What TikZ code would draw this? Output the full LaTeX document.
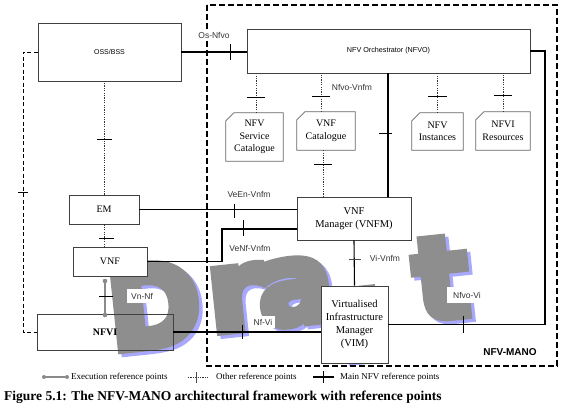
\documentclass[tikz,border=0pt]{standalone}
\usepackage{fontspec}
\setmainfont{Liberation Serif}
\setsansfont{Liberation Sans}
\newfontfamily\wmfont[FakeBold=8]{DejaVu Sans Bold}
\usetikzlibrary{calc}
\definecolor{wmgray}{HTML}{8E8E8E}
\definecolor{wmblue}{HTML}{A8A8FF}
\definecolor{execgray}{HTML}{8A8A8A}
\tikzset{
  box/.style={draw=black!75, line width=0.7pt, fill=white, inner sep=0pt, align=center,
              font=\fontsize{10}{12.5}\selectfont},
  storebox/.style={draw=none, inner sep=0pt, align=center, font=\fontsize{10}{12.5}\selectfont},
  storeline/.style={draw=black!60, line width=0.8pt},
  mainline/.style={line width=1.5pt, black},
  otherline/.style={line width=0.8pt, black!80, dash pattern=on 1.2pt off 1.2pt},
  leftline/.style={line width=0.9pt, black, dash pattern=on 4pt off 2.5pt},
  tickmark/.style={line width=0.8pt, black},
  execline/.style={line width=1.2pt, execgray},
  lbl/.style={fill=white, inner sep=2pt, font=\sffamily\fontsize{8.5}{10}\selectfont, text=black!80},
  mano/.style={line width=2pt, black, dash pattern=on 6pt off 3pt},
  wm/.style={inner sep=0pt, rotate=6, font=\wmfont\fontsize{112}{112}\selectfont},
  legtext/.style={anchor=west, inner sep=0pt, font=\fontsize{9}{10}\selectfont},
}
\begin{document}
\begin{tikzpicture}[x=1pt,y=-1pt]
\useasboundingbox (0,0) rectangle (572,417);
\fill[white] (0,0) rectangle (572,417);

% watermark "Draft"
\foreach \ch/\px/\py/\sc/\nm in {D/154/305/1/wmD, r/236/298/1/wmr, a/296/292/1/wma, f/355/324/0.8/wmf, t/441/278/1/wmt}{
  \node[wm, text=wmblue, scale=\sc] (\nm s) at (\px+3.5,\py+3) {\ch};
}
\foreach \ch/\px/\py/\sc/\nm in {D/154/305/1/wmD, r/236/298/1/wmr, a/296/292/1/wma, f/355/324/0.8/wmf, t/441/278/1/wmt}{
  \node[wm, text=wmgray, scale=\sc] (\nm) at (\px,\py) {\ch};
}

% MANO frame
\draw[mano] (207,5) rectangle (557,366);
\node[font=\sffamily\bfseries\fontsize{10}{12}\selectfont] (manolbl) at (510,352) {NFV-MANO};

% boxes
\node[box, minimum width=143pt, minimum height=58pt, font=\sffamily\fontsize{7}{8}\selectfont] (oss) at (109.5,52) {OSS/BSS};
\node[box, minimum width=283pt, minimum height=44pt, font=\sffamily\fontsize{7.2}{8}\selectfont] (nfvo) at (388.5,51) {NFV Orchestrator (NFVO)};
\node[box, minimum width=70pt, minimum height=29pt] (em) at (104,209.5) {EM};
\node[box, minimum width=74pt, minimum height=29pt] (vnf) at (110,261.5) {VNF};
\node[box, fill=none, minimum width=136pt, minimum height=36pt, font=\bfseries\fontsize{10}{12}\selectfont] (nfvi) at (105,332) {NFVI};
\node[box, minimum width=114pt, minimum height=43pt, font=\fontsize{10.5}{12.5}\selectfont] (vnfm) at (354,218.5) {VNF\\Manager (VNFM)};
\node[box, minimum width=67pt, minimum height=77pt, font=\fontsize{10.5}{12.8}\selectfont] (vim) at (354.5,324.5) {Virtualised\\Infrastructure\\Manager\\(VIM)};

% catalogue stores
\node[storebox, minimum width=57pt, minimum height=48pt] (nsc) at (254.5,137) {NFV\\Service\\Catalogue};
\node[storebox, minimum width=58pt, minimum height=38pt] (vnfc) at (326,131) {VNF\\Catalogue};
\node[storebox, minimum width=51pt, minimum height=37pt] (nfvinst) at (437.5,131.5) {NFV\\Instances};
\node[storebox, minimum width=54pt, minimum height=38pt] (nfvires) at (503,131) {NFVI\\Resources};
\foreach \n in {nsc,vnfc,nfvinst,nfvires}{
  \draw[storeline] ([yshift=-8pt]\n.north west) -- ([xshift=8pt]\n.north west) -- (\n.north east)
     -- (\n.south east) -- (\n.south west) -- cycle;
}

% Os-Nfvo
\draw[mainline] (oss.east) -- (oss.east -| nfvo.west);
\draw[tickmark] (230,44) -- (230,60);
\node[lbl] (osnfvo) at (214,35) {Os-Nfvo};

% left dashed OSS -- NFVI
\coordinate (lc1) at (23,52);
\coordinate (lc2) at (23,332);
\draw[leftline] (oss.west) -- (lc1) -- (lc2) -- (nfvi.west);
\draw[tickmark] (18,192) -- (28,192);

% OSS -- EM -- VNF
\draw[otherline] (em.north) -- (em.north |- oss.south);
\draw[tickmark] (97,139) -- (112,139);
\draw[otherline] (em.south) -- (em.south |- vnf.north);
\draw[tickmark] (99,238) -- (114,238);

% VNF -- NFVI execution
\coordinate (exa) at (105,281);
\coordinate (exb) at (105,315);
\draw[execline] (exa) -- (exb);
\fill[execgray] (exa) circle (2.3pt) (exb) circle (2.3pt);
\draw[tickmark] (99,296) -- (113,296);
\node[lbl, inner xsep=4pt, inner ysep=4pt] (vnnf) at (142,296) {Vn-Nf};

% EM -- VNFM
\draw[mainline, line width=1.3pt] (em.east) -- (em.east -| vnfm.west);
\draw[tickmark] (234,204) -- (234,218);
\node[lbl, fill=none] (veen) at (249,194) {VeEn-Vnfm};

% VNF -- VNFM
\coordinate (vv1) at (222,261.5);
\coordinate (vv2) at (222,229);
\draw[mainline, line width=1.3pt] (vnf.east) -- (vv1) -- (vv2) -- (vv2 -| vnfm.west);
\draw[tickmark] (243,220) -- (243,236);
\node[lbl] (venf) at (250,248) {VeNf-Vnfm};

% NFVO -- stores
\draw[otherline] (nsc.north -| 256,0) -- (nfvo.south -| 256,0);
\draw[tickmark] (247,97) -- (265,97);
\draw[otherline] ([xshift=-5pt]vnfc.north) -- ([xshift=-5pt]vnfc.north |- nfvo.south);
\draw[tickmark] (312,96) -- (330,96);
\draw[otherline] (nfvinst.north -| 437,0) -- (nfvo.south -| 437,0);
\draw[tickmark] (428,96) -- (447,96);
\draw[otherline] (nfvires.north) -- (nfvires.north |- nfvo.south);
\draw[tickmark] (494,95) -- (512,95);
\node[lbl, fill=white] (nfvovnfm) at (352,87) {Nfvo-Vnfm};

% VNF catalogue -- VNFM
\draw[otherline] ([xshift=-3pt]vnfc.south) -- ([xshift=-3pt]vnfc.south |- vnfm.north);
\draw[tickmark] (314,164) -- (332,164);

% NFVO -- VNFM
\draw[mainline, line width=1.8pt] (nfvo.south -| 388,0) -- (vnfm.north -| 388,0);
\draw[tickmark, line width=1pt] (379,133) -- (392,133);

% VNFM -- VIM
\draw[line width=1.1pt] (vnfm.south) -- (vim.north);
\draw[tickmark, black!70] (349,259) -- (361,259);
\node[lbl, inner xsep=3pt, inner ysep=4pt] (vivnfm) at (385,258) {Vi-Vnfm};

% NFVI -- VIM
\draw[mainline, line width=1.3pt] (nfvi.east) -- (nfvi.east -| vim.west);
\draw[tickmark] (242,325) -- (242,339);
\node[lbl, inner xsep=3pt, inner ysep=3pt] (nfvi-lbl) at (263,322) {Nf-Vi};

% NFVO -- VIM
\coordinate (nv1) at (545,51);
\coordinate (nv2) at (545,324.5);
\draw[mainline, line width=1.3pt] (nfvo.east) -- (nv1) -- (nv2) -- (vim.east);
\draw[tickmark] (463,316) -- (463,333);
\node[lbl, inner xsep=6pt, inner ysep=5pt] (nfvovi) at (467,295) {Nfvo-Vi};

% legend
\coordinate (lga) at (44,377);
\coordinate (lgb) at (67,377);
\draw[execline] (lga) -- (lgb);
\fill[execgray] (lga) circle (2pt) (lgb) circle (2pt);
\node[legtext] (lgexec) at (71,377) {Execution reference points};
\coordinate (lgc) at (188,377);
\coordinate (lgd) at (208,377);
\draw[otherline] (lgc) -- (lgd);
\draw[line width=0.7pt, black!70] (196,372) -- (196,383);
\node[legtext] (lgother) at (216,377) {Other reference points};
\coordinate (lge) at (313,377);
\coordinate (lgf) at (334,377);
\draw[line width=1.6pt] (lge) -- (lgf);
\draw[line width=0.9pt] (323,371) -- (323,383);
\node[legtext] (lgmain) at (340,377) {Main NFV reference points};

% caption
\node[anchor=west, inner sep=0pt, font=\bfseries\fontsize{13.5}{15}\selectfont] (caption) at (4,397)
  {Figure 5.1: The NFV-MANO architectural framework with reference points};
\end{tikzpicture}
\end{document}
